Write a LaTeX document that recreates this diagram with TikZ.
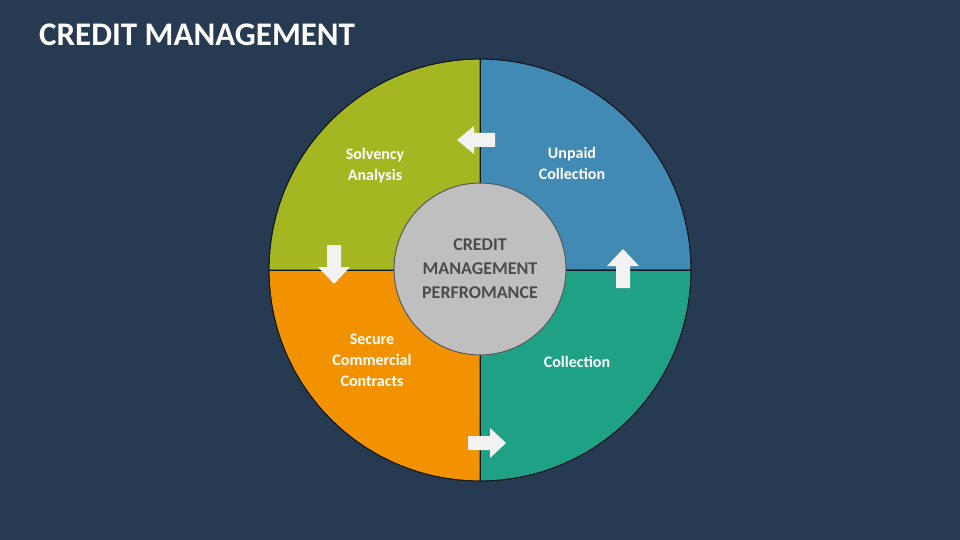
\documentclass[tikz,border=0pt]{standalone}
\usepackage{fontspec}
\setmainfont{Carlito}
\definecolor{bg}{HTML}{263A52}
\definecolor{cgreen}{HTML}{A5B623}
\definecolor{cblue}{HTML}{418AB3}
\definecolor{cteal}{HTML}{1FA185}
\definecolor{corange}{HTML}{F39200}
\definecolor{cgray}{HTML}{BFBFBF}
\definecolor{carrow}{HTML}{F2F2F2}
\begin{document}
\begin{tikzpicture}[x=1pt,y=-1pt,
  quad/.style={draw=black!60!bg,line width=0.8pt},
  lbl/.style={text=white,font=\bfseries\fontsize{16}{21}\selectfont,align=center},
  blk/.style={fill=carrow,draw=none}]
\fill[bg] (0,0) rectangle (960,540);
\useasboundingbox (0,0) rectangle (960,540);
\node[anchor=west,text=white,font=\bfseries\fontsize{33}{36}\selectfont,inner sep=0pt] (title) at (39,35) {CREDIT MANAGEMENT};
\coordinate (c) at (480,270);
\fill[quad,fill=cblue] (c) -- (480,59) arc[start angle=-90,end angle=0,radius=211] -- cycle;
\fill[quad,fill=cteal] (c) -- (691,270) arc[start angle=0,end angle=90,radius=211] -- cycle;
\fill[quad,fill=corange] (c) -- (480,481) arc[start angle=90,end angle=180,radius=211] -- cycle;
\fill[quad,fill=cgreen] (c) -- (269,270) arc[start angle=180,end angle=270,radius=211] -- cycle;
\draw[quad] (480,59)--(480,481) (269,270)--(691,270);
\draw[quad] (c) circle[radius=211];
\node[circle,minimum size=172pt,fill=cgray,draw=black!30!gray,line width=1pt,text=black!70,font=\bfseries\fontsize{18}{24}\selectfont,align=center] (center) at (480,269) {CREDIT\\MANAGEMENT\\PERFROMANCE};
\node[lbl] (n1) at (572,163) {Unpaid\\Collection};
\node[lbl] (n2) at (577,362) {Collection};
\node[lbl] (n3) at (372,360) {Secure\\Commercial\\Contracts};
\node[lbl] (n4) at (375,166) {Solvency\\Analysis};
% left arrow
\fill[blk] (495,133)--(474,133)--(474,126)--(457,140)--(474,154)--(474,147)--(495,147)--cycle;
% down arrow
\fill[blk] (327,245)--(341,245)--(341,267)--(350,267)--(334,284)--(318,267)--(327,267)--cycle;
% right arrow
\fill[blk] (468,436)--(490,436)--(490,428)--(506,443)--(490,458)--(490,450)--(468,450)--cycle;
% up arrow
\fill[blk] (616,288)--(630,288)--(630,266)--(639,266)--(623,249)--(607,266)--(616,266)--cycle;
\end{tikzpicture}
\end{document}
